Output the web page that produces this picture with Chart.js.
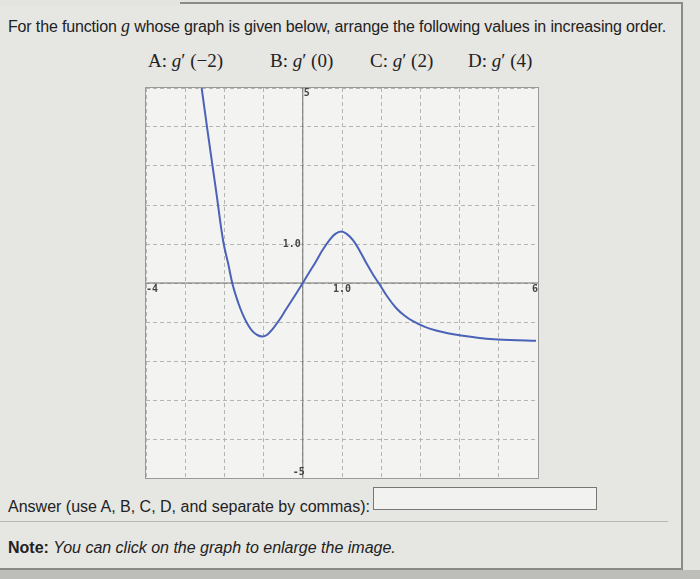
<!DOCTYPE html>
<html>
<head>
<meta charset="utf-8">
<script src="https://cdn.jsdelivr.net/npm/chart.js@4/dist/chart.umd.min.js"></script>
<style>
  body { margin: 0; width: 700px; height: 579px; background: #e3e3e0; font-family: "Liberation Sans", Arial, sans-serif; overflow: hidden; position: relative; }
  .frame { position: absolute; left: -2px; top: 2px; width: 683px; height: 564px; border: 2px solid #8a8a88; border-left: none; background: #e6e6e3; }
  .topmask { position: absolute; left: 0; top: 0; width: 180px; height: 6px; background: #e3e3e0; }
  .q { position: absolute; left: 8px; top: 16px; font-size: 16px; color: #222; letter-spacing: -0.15px; }
  .opts { position: absolute; top: 50px; font-family: "Liberation Serif", "Times New Roman", serif; font-size: 19px; color: #222; white-space: pre; }
  .plot { position: absolute; left: 145px; top: 87px; width: 392px; height: 390px; border: 1px solid #9a9a98; background: #f3f3f1; }
  .ans { position: absolute; left: 8px; top: 498px; font-size: 16px; color: #222; }
  .box { position: absolute; left: 373px; top: 487px; width: 222px; height: 21px; border: 1px solid #777; background: #f2f2f0; }
  .sep { position: absolute; left: 0; top: 521px; width: 668px; height: 1px; background: #b8b8b5; }
  .note { position: absolute; left: 8px; top: 539px; font-size: 16px; color: #222; }
  .bottom { position: absolute; left: 0; top: 570px; width: 700px; height: 9px; background: #bdbdba; }
</style>
</head>
<body>
<div class="frame"></div>
<div class="topmask"></div>
<div class="q">For the function <i style="font-family:'Liberation Serif',serif;font-size:18px">g</i> whose graph is given below, arrange the following values in increasing order.</div>
<div class="opts" style="left:148px">A: <i>g</i>′ (−2)</div>
<div class="opts" style="left:270px">B: <i>g</i>′ (0)</div>
<div class="opts" style="left:370px">C: <i>g</i>′ (2)</div>
<div class="opts" style="left:468px">D: <i>g</i>′ (4)</div>
<div class="plot"><canvas id="graph"></canvas></div>
<div class="ans">Answer (use A, B, C, D, and separate by commas):</div>
<div class="box"></div>
<div class="sep"></div>
<div class="note"><b>Note:</b> <i>You can click on the graph to enlarge the image.</i></div>
<div class="bottom"></div>
<script>
// curve of g
const xs = [-2.58, -2.43, -2.21, -2.03, -1.9, -1.79, -1.65, -1.53, -1.4, -1.28, -1.15, -1.02, -0.9, -0.77, -0.6, -0.43, -0.2, 0, 0.17, 0.34, 0.5, 0.68, 0.83, 0.98, 1.12, 1.28, 1.45, 1.62, 1.79, 1.96, 2.15, 2.38, 2.6, 2.81, 3.1, 3.4, 3.7, 4.0, 4.68, 5.28, 5.95];
const ys = [5.0, 3.9, 2.35, 1.07, 0.48, -0.04, -0.5, -0.81, -1.07, -1.24, -1.34, -1.37, -1.32, -1.18, -0.95, -0.68, -0.32, 0, 0.28, 0.56, 0.84, 1.1, 1.26, 1.32, 1.26, 1.1, 0.83, 0.51, 0.22, -0.04, -0.34, -0.64, -0.84, -0.98, -1.12, -1.22, -1.29, -1.34, -1.43, -1.46, -1.48];
const xRange = [-4, 6];
const yRange = [-5, 5];
// tick labels drawn on the graph
const tickLabels = [
  { axis: 'x', value: -4, text: '-4' },
  { axis: 'x', value: 6, text: '6' },
  { axis: 'x', value: 1, text: '1.0' },
  { axis: 'y', value: 5, text: '5' },
  { axis: 'y', value: -5, text: '-5' },
  { axis: 'y', value: 1, text: '1.0' }
];

const axesPlugin = {
  id: 'axes',
  beforeDatasetsDraw(chart) {
    const { ctx, scales: { x, y }, chartArea } = chart;
    const x0 = x.getPixelForValue(0), y0 = y.getPixelForValue(0);
    ctx.save();
    ctx.strokeStyle = '#6e6e6e';
    ctx.lineWidth = 1;
    ctx.beginPath();
    ctx.moveTo(x0, chartArea.top); ctx.lineTo(x0, chartArea.bottom);
    ctx.moveTo(chartArea.left, y0); ctx.lineTo(chartArea.right, y0);
    ctx.stroke();
    ctx.font = 'bold 10px "DejaVu Sans Mono", monospace';
    ctx.fillStyle = '#444';
    tickLabels.forEach(t => {
      let px, py;
      if (t.axis === 'x') {
        px = x.getPixelForValue(t.value); py = y0 + 6;
        ctx.textAlign = t.value === xRange[0] ? 'left' : (t.value === xRange[1] ? 'right' : 'center');
      } else {
        px = x0 + (t.value === 1 ? -2 : 1); py = y.getPixelForValue(t.value);
        ctx.textAlign = t.value === 1 ? 'right' : (t.value > 0 ? 'left' : 'right');
        if (t.value === yRange[0]) { px = x0 + 2; py -= 6; }
        if (t.value === yRange[1]) py += 5;
      }
      ctx.textBaseline = 'middle';
      ctx.fillText(t.text, px, py);
    });
    ctx.restore();
  }
};

new Chart(document.getElementById('graph'), {
  type: 'scatter',
  data: {
    datasets: [{
      data: xs.map((v, i) => ({ x: v, y: ys[i] })),
      showLine: true,
      borderColor: '#4a62b8',
      borderWidth: 2,
      pointRadius: 0,
      tension: 0.4,
      fill: false
    }]
  },
  options: {
    responsive: true,
    maintainAspectRatio: false,
    animation: false,
    layout: { padding: 0 },
    plugins: { legend: { display: false }, tooltip: { enabled: false } },
    scales: {
      x: {
        type: 'linear', min: xRange[0], max: xRange[1],
        ticks: { display: false, stepSize: 1 },
        grid: { color: '#b5b5b3', drawTicks: false, lineWidth: 1 },
        border: { display: false, dash: [4, 3] }
      },
      y: {
        type: 'linear', min: yRange[0], max: yRange[1],
        ticks: { display: false, stepSize: 1 },
        grid: { color: '#b5b5b3', drawTicks: false, lineWidth: 1 },
        border: { display: false, dash: [4, 3] }
      }
    }
  },
  plugins: [axesPlugin]
});
</script>
</body>
</html>
